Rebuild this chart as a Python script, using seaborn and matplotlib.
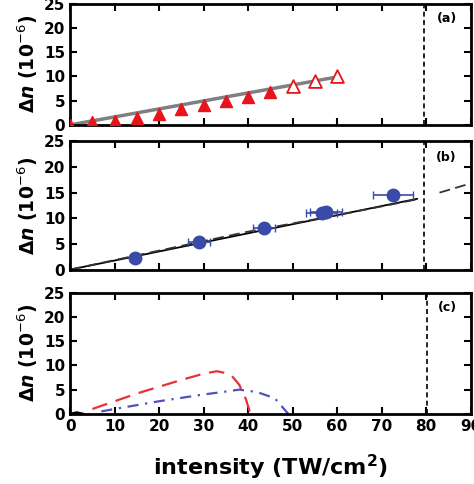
import numpy as np
import matplotlib
matplotlib.use("Agg")
import matplotlib.pyplot as plt
import seaborn as sns

sns.set_style("ticks")
plt.rcParams["text.color"] = "black"
plt.rcParams["axes.labelcolor"] = "black"
plt.rcParams["xtick.color"] = "black"
plt.rcParams["ytick.color"] = "black"
plt.rcParams["axes.edgecolor"] = "black"

# panel (a)
a_x_fill = [0, 5, 10, 15, 20, 25, 30, 35, 40, 45]
a_y_fill = [0.0, 0.5, 0.8, 1.5, 2.3, 3.2, 4.1, 5.0, 5.8, 6.8]
a_x_open = [50, 55, 60]
a_y_open = [8.0, 9.0, 10.2]
a_fit_x = [0, 60]
a_fit_y = [0.0, 9.9]

# panel (b)
b_x = [14.5, 29, 43.5, 56.5, 57.5, 72.5]
b_y = [2.2, 5.4, 8.1, 11.0, 11.2, 14.5]
b_xerr = [1.0, 2.5, 2.5, 3.5, 3.5, 4.5]
b_yerr = [0.6, 0.6, 0.6, 0.9, 0.9, 0.6]
b_solid_x = [0, 78]
b_solid_y = [0.0, 13.8]
b_dash_x = [0, 20, 40, 60, 78]
b_dash_y = [0.0, 3.7, 7.4, 10.6, 13.7]
b_dash2_x = [83, 90]
b_dash2_y = [15.0, 16.8]

# panel (c)
c_red_x = [5, 10, 15, 20, 25, 30, 33, 36, 38, 39.5, 40.5]
c_red_y = [1.0, 2.6, 4.2, 5.6, 7.0, 8.3, 8.8, 8.2, 6.0, 3.0, 0.0]
c_blue_x = [7, 10, 15, 20, 25, 30, 35, 38, 42, 46, 49]
c_blue_y = [0.5, 1.0, 1.8, 2.6, 3.3, 4.0, 4.6, 5.0, 4.5, 3.2, 0.0]
c_blk_x = [0, 1.5, 3]
c_blk_y = [0.0, 0.3, 0.0]
vlines = [79.5, 79.5, 80.2]
labels = ["(a)", "(b)", "(c)"]
xticks = [0, 10, 20, 30, 40, 50, 60, 70, 80, 90]
yticks = [0, 5, 10, 15, 20, 25]

fig = plt.figure(figsize=(4.74, 4.84), dpi=100)
boxes = [(0.148, 0.742, 0.845, 0.25), (0.148, 0.443, 0.845, 0.265), (0.148, 0.145, 0.845, 0.25)]
axes = [fig.add_axes(b) for b in boxes]

ax = axes[0]
ax.plot(a_fit_x, a_fit_y, color="gray", lw=2.5, zorder=1)
ax.scatter(a_x_fill, a_y_fill, marker="^", s=75, color="#e8141c", zorder=3)
ax.scatter(a_x_open, a_y_open, marker="^", s=85, facecolor="white", edgecolor="#e8141c", lw=1.3, zorder=3)

ax = axes[1]
ax.plot(b_solid_x, b_solid_y, color="black", lw=1.3)
ax.plot(b_dash_x, b_dash_y, color="#333333", lw=1.3, ls=(0, (6, 3)))
ax.plot(b_dash2_x, b_dash2_y, color="#333333", lw=1.3, ls=(0, (6, 3)))
ax.errorbar(b_x, b_y, xerr=b_xerr, yerr=b_yerr, fmt="o", ms=9, color="#3a4aa8",
            mfc="#3a4aa8", ecolor="#3a4aa8", capsize=3, lw=1.2, zorder=3)

ax = axes[2]
ax.plot(c_red_x, c_red_y, color="#e8303a", lw=1.6, ls=(0, (7, 4)))
ax.plot(c_blue_x, c_blue_y, color="#5050c0", lw=1.6, ls=(0, (5, 3, 1, 3)))
ax.plot(c_blk_x, c_blk_y, color="black", lw=1.6)

for ax, vx, lab in zip(axes, vlines, labels):
    ax.axvline(vx, color="black", lw=1.2, ls=(0, (3, 2)))
    ax.set_xlim(0, 90)
    ax.set_ylim(0, 25)
    ax.set_xticks(xticks)
    ax.set_yticks(yticks)
    ax.tick_params(direction="in", top=True, right=True, length=5, width=1.5, labelsize=11)
    for lbl in ax.get_xticklabels() + ax.get_yticklabels():
        lbl.set_fontweight("bold")
    for s in ax.spines.values():
        s.set_linewidth(2)
    ax.text(0.965, 0.85, lab, transform=ax.transAxes, ha="right", fontsize=9, fontweight="bold")
    ax.set_ylabel(r"$\mathbf{\Delta}\boldsymbol{n}$ (10$^{-6}$)", fontsize=13.5, fontweight="bold", labelpad=3)
    if ax is not axes[2]:
        ax.set_xticklabels([])

axes[2].set_xlabel("intensity (TW/cm$^\\mathbf{2}$)", fontsize=16, fontweight="bold", labelpad=14)
fig.savefig("out.png", dpi=100)
